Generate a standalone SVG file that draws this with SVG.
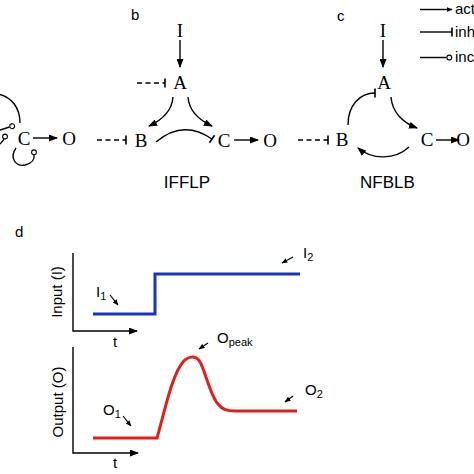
<svg xmlns="http://www.w3.org/2000/svg" width="474" height="474" viewBox="0 0 474 474">
<style>
.sf{font-family:"Liberation Serif","Times New Roman",serif;font-size:19px;fill:#000;text-anchor:middle}
.ss{font-family:"Liberation Sans",Arial,sans-serif;fill:#000}
.ln{fill:none;stroke:#000;stroke-width:1.4}
.ds{fill:none;stroke:#000;stroke-width:1.4;stroke-dasharray:5,3.5}
.an{fill:none;stroke:#000;stroke-width:1.2}
</style>
<defs>
<marker id="arr" markerUnits="userSpaceOnUse" markerWidth="9" markerHeight="7" refX="8" refY="3.5" orient="auto"><path d="M0,0 L9,3.5 L0,7 z" fill="#000"/></marker>
<marker id="sarr" markerUnits="userSpaceOnUse" markerWidth="6" markerHeight="5" refX="5.5" refY="2.5" orient="auto"><path d="M0,0 L6,2.5 L0,5 z" fill="#000"/></marker>
<marker id="tee" markerUnits="userSpaceOnUse" markerWidth="4" markerHeight="10" refX="2" refY="5" orient="auto"><path d="M2,0.5 L2,9.5" stroke="#000" stroke-width="1.6"/></marker>
<marker id="circ" markerUnits="userSpaceOnUse" markerWidth="7" markerHeight="7" refX="0.5" refY="3.5" orient="auto"><circle cx="3.3" cy="3.5" r="2.4" fill="#fff" stroke="#000" stroke-width="1.1"/></marker>
</defs>

<!-- panel a (cropped) -->
<g id="a-C"><text class="sf" x="24" y="145">C</text></g>
<g id="a-O"><text class="sf" x="69" y="145">O</text></g>

<!-- panel b -->
<text class="ss" x="131" y="20" font-size="15">b</text>
<g id="b-I"><text class="sf" x="180" y="37">I</text></g>
<g id="b-A"><text class="sf" x="180" y="89">A</text></g>
<g id="b-B"><text class="sf" x="141" y="147">B</text></g>
<g id="b-C"><text class="sf" x="224" y="147">C</text></g>
<g id="b-O"><text class="sf" x="270" y="147">O</text></g>
<text class="ss" x="187" y="188" font-size="17" text-anchor="middle">IFFLP</text>

<!-- panel c -->
<text class="ss" x="337" y="21" font-size="15">c</text>
<g id="c-I"><text class="sf" x="383" y="37">I</text></g>
<g id="c-A"><text class="sf" x="384" y="89">A</text></g>
<g id="c-B"><text class="sf" x="342" y="146">B</text></g>
<g id="c-C"><text class="sf" x="427" y="146">C</text></g>
<g id="c-O"><text class="sf" x="463" y="146" text-anchor="start">O</text></g>
<text class="ss" x="387.5" y="188" font-size="17" text-anchor="middle">NFBLB</text>

<!-- legend -->
<g id="legend">
<line class="ln" x1="420" y1="9.5" x2="452" y2="9.5" marker-end="url(#sarr)"/>
<text class="ss" x="455" y="14" font-size="15">act</text>
<line class="ln" x1="420" y1="32" x2="452" y2="32" marker-end="url(#tee)"/>
<text class="ss" x="455" y="37" font-size="15">inh</text>
<line class="ln" x1="420" y1="57.5" x2="446.5" y2="57.5" marker-end="url(#circ)"/>
<text class="ss" x="455" y="62" font-size="15">inc</text>
</g>

<g id="connectors">
<!-- panel a -->
<line class="ln" x1="33" y1="138" x2="57" y2="138" marker-end="url(#arr)"/>
<path class="ln" d="M-2,94 C12,97 20,108 20,123"/>
<path class="ln" d="M0,130 L9.5,127" marker-end="url(#circ)"/>
<circle cx="5" cy="136.5" r="2.4" fill="#fff" stroke="#000" stroke-width="1.1"/>
<path class="ln" d="M4,139 Q2,143 -2,145"/>
<path class="ln" d="M16,148 C9,158 16,167 25,165 C32,163 35,159 34,155" />
<circle cx="34" cy="152.3" r="2.4" fill="#fff" stroke="#000" stroke-width="1.1"/>
<!-- panel b -->
<line class="ln" x1="180" y1="40" x2="180" y2="67" marker-end="url(#arr)"/>
<line class="ds" x1="137" y1="83" x2="165" y2="83"/>
<line class="ln" x1="164" y1="83" x2="165" y2="83" marker-end="url(#tee)"/>
<line class="ds" x1="97" y1="140" x2="126" y2="140"/>
<line class="ln" x1="125" y1="140" x2="126" y2="140" marker-end="url(#tee)"/>
<path class="ln" d="M173,97 C172,110 162,120 149,126" marker-end="url(#arr)"/>
<path class="ln" d="M188,97 C189,110 199,120 212,126" marker-end="url(#arr)"/>
<path class="ln" d="M156,142 Q183,119 212,139" marker-end="url(#tee)"/>
<line class="ln" x1="234" y1="140" x2="258" y2="140" marker-end="url(#arr)"/>
<!-- panel c -->
<line class="ln" x1="383" y1="40" x2="383" y2="67" marker-end="url(#arr)"/>
<line class="ds" x1="298" y1="140" x2="328" y2="140"/>
<line class="ln" x1="327" y1="140" x2="328" y2="140" marker-end="url(#tee)"/>
<path class="ln" d="M348,125 C348,105 360,93 375,93" marker-end="url(#tee)"/>
<path class="ln" d="M391,97 C392,112 403,123 417,128" marker-end="url(#arr)"/>
<path class="ln" d="M409,147 C395,160 372,160 358,148" marker-end="url(#arr)"/>
<line class="ln" x1="436" y1="140" x2="459" y2="140" marker-end="url(#arr)"/>
</g>

<!-- panel d -->
<text class="ss" x="15" y="237" font-size="15">d</text>
<g id="input-plot">
<path class="ln" d="M73,253 V331 H137" marker-end="url(#arr)"/>
<text class="ss" x="115" y="347" font-size="15" text-anchor="middle">t</text>
<text class="ss" font-size="15" text-anchor="middle" transform="translate(62,292) rotate(-90)">Input (I)</text>
<polyline points="93,314 155,314 155,274 300,274" fill="none" stroke="#1634c8" stroke-width="3"/>
<text class="ss" x="96" y="297" font-size="15">I<tspan font-size="11" dy="3">1</tspan></text>
<line class="an" x1="110" y1="295" x2="118" y2="305" marker-end="url(#sarr)"/>
<text class="ss" x="303" y="258" font-size="15">I<tspan font-size="11" dy="3">2</tspan></text>
<line class="an" x1="293" y1="257" x2="282" y2="263" marker-end="url(#sarr)"/>
</g>
<g id="output-plot">
<path class="ln" d="M73,347 V453 H138" marker-end="url(#arr)"/>
<text class="ss" x="115" y="468" font-size="15" text-anchor="middle">t</text>
<text class="ss" font-size="15" text-anchor="middle" transform="translate(63,402) rotate(-90)">Output (O)</text>
<path d="M93,438 L157,438 C165,410 172,375 183,362 C188,356 196,355 200,362 C205,370 210,395 218,404 C222,409 226,411 235,411 L297,411" fill="none" stroke="#e0201a" stroke-width="3"/>
<text class="ss" x="103" y="415" font-size="15">O<tspan font-size="11" dy="3">1</tspan></text>
<line class="an" x1="123" y1="416" x2="131" y2="426" marker-end="url(#sarr)"/>
<text class="ss" x="217" y="343" font-size="15">O<tspan font-size="11" dy="3">peak</tspan></text>
<line class="an" x1="208" y1="343" x2="199" y2="349" marker-end="url(#sarr)"/>
<text class="ss" x="305" y="395" font-size="15">O<tspan font-size="11" dy="3">2</tspan></text>
<line class="an" x1="293" y1="396" x2="285" y2="402" marker-end="url(#sarr)"/>
</g>
</svg>
